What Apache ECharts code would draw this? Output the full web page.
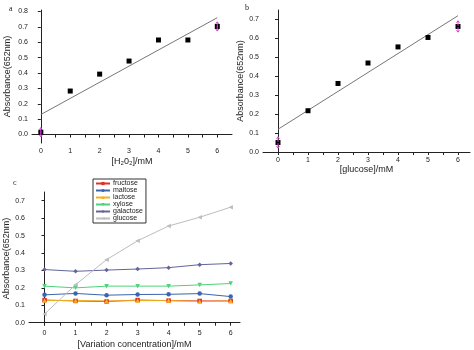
<!DOCTYPE html>
<html><head><meta charset="utf-8">
<script src="https://cdn.jsdelivr.net/npm/echarts@6/dist/echarts.min.js"></script>
<style>html,body{margin:0;padding:0;background:#fff}#c{width:474px;height:350px}</style>
</head><body><div id="c"></div>
<script>
const xCats = [0, 1, 2, 3, 4, 5, 6];
const xTicks = [0, 1, 2, 3, 4, 5, 6];
const yTicksA = [0, 0.1, 0.2, 0.3, 0.4, 0.5, 0.6, 0.7, 0.8];
const yTicksC = [0, 0.1, 0.2, 0.3, 0.4, 0.5, 0.6, 0.7];
// panel a
const aVals = [0.015, 0.283, 0.393, 0.478, 0.615, 0.615, 0.703];
const aErr = [[0, 0.015, 0.03], [6, 0.703, 0.03]];
const aFit = [[0, 0.13], [6, 0.76]];
// panel b
const bVals = [0.05, 0.218, 0.362, 0.47, 0.555, 0.605, 0.663];
const bErr = [[0, 0.05, 0.03], [6, 0.663, 0.03]];
const bFit = [[0, 0.12], [6, 0.72]];
// panel c
const seriesNames = ['fructose', 'maltose', 'lactose', 'xylose', 'galactose', 'glucose'];
const fructose = [0.13, 0.125, 0.122, 0.13, 0.127, 0.125, 0.125];
const maltose = [0.16, 0.168, 0.158, 0.162, 0.163, 0.167, 0.15];
const lactose = [0.128, 0.128, 0.125, 0.127, 0.127, 0.122, 0.125];
const xylose = [0.21, 0.2, 0.21, 0.21, 0.21, 0.217, 0.225];
const galactose = [0.305, 0.295, 0.302, 0.308, 0.316, 0.333, 0.34];
const glucose = [0.05, 0.218, 0.362, 0.47, 0.555, 0.605, 0.663];

const cData = [fructose, maltose, lactose, xylose, galactose, glucose];
const cColors = ['#e0302a', '#3a66b0', '#f2b21e', '#4fd27a', '#64649a', '#bdbdbd'];
const cSymbols = ['rect', 'circle', 'triangle', 'path://M0,0L10,0L5,9Z', 'diamond', 'path://M0,5L9,0L9,10Z'];

const txt = '#222';
const ff = 'Liberation Sans, Arial, sans-serif';
const xTickAll = xTicks.concat(xTicks.slice(0, -1).map(v => v + 0.5));
function xAxis(gi, min, max, name, nameGap) {
  return {
    type: 'value', gridIndex: gi, min: min, max: max,
    name: name, nameLocation: 'middle', nameGap: nameGap,
    nameTextStyle: {fontSize: 9, color: txt, fontFamily: ff},
    axisLine: {lineStyle: {color: '#222', width: 1}},
    axisTick: {show: true, customValues: xTickAll, length: 3, lineStyle: {color: '#222'}},
    axisLabel: {customValues: xTicks, fontSize: 7, color: txt, fontFamily: ff, margin: 5},
    splitLine: {show: false}
  };
}
function yAxis(gi, min, max, ticks, nameGap) {
  return {
    type: 'value', gridIndex: gi, min: min, max: max,
    name: 'Absorbance(652nm)', nameLocation: 'middle', nameGap: nameGap,
    nameTextStyle: {fontSize: 9, color: txt, fontFamily: ff},
    axisLine: {show: true, lineStyle: {color: '#222', width: 1}},
    axisTick: {show: true, customValues: ticks, length: 3, lineStyle: {color: '#222'}},
    axisLabel: {customValues: ticks, fontSize: 7, color: txt, fontFamily: ff, margin: 4,
      formatter: v => v.toFixed(1)},
    splitLine: {show: false}
  };
}

function errSeries(xi, yi, data) {
  return {
    type: 'custom', xAxisIndex: xi, yAxisIndex: yi, data: data, z: 7,
    renderItem: function (params, api) {
      const x = api.value(0), y = api.value(1), e = api.value(2);
      const p1 = api.coord([x, y + e]), p2 = api.coord([x, y - e]);
      const st = {stroke: '#e040e0', lineWidth: 1};
      return {type: 'group', children: [
        {type: 'line', shape: {x1: p1[0], y1: p1[1], x2: p1[0], y2: p1[1] + 5}, style: st},
        {type: 'line', shape: {x1: p2[0], y1: p2[1], x2: p2[0], y2: p2[1] - 5}, style: st},
        {type: 'line', shape: {x1: p1[0] - 1.5, y1: p1[1] + 2, x2: p1[0], y2: p1[1]}, style: st},
        {type: 'line', shape: {x1: p1[0] + 1.5, y1: p1[1] + 2, x2: p1[0], y2: p1[1]}, style: st},
        {type: 'line', shape: {x1: p2[0] - 1.5, y1: p2[1] - 2, x2: p2[0], y2: p2[1]}, style: st},
        {type: 'line', shape: {x1: p2[0] + 1.5, y1: p2[1] - 2, x2: p2[0], y2: p2[1]}, style: st}
      ]};
    }
  };
}

const series = [
  {type: 'line', xAxisIndex: 0, yAxisIndex: 0, data: aFit, symbol: 'none', lineStyle: {color: '#777', width: 1}},
  errSeries(0, 0, aErr),
  {type: 'scatter', xAxisIndex: 0, yAxisIndex: 0, data: xCats.map((x, i) => [x, aVals[i]]), symbol: 'rect', symbolSize: 5, itemStyle: {color: '#000', opacity: 1}, z: 6},
  {type: 'line', xAxisIndex: 1, yAxisIndex: 1, data: bFit, symbol: 'none', lineStyle: {color: '#777', width: 1}},
  errSeries(1, 1, bErr),
  {type: 'scatter', xAxisIndex: 1, yAxisIndex: 1, data: xCats.map((x, i) => [x, bVals[i]]), symbol: 'rect', symbolSize: 5, itemStyle: {color: '#000', opacity: 1}, z: 6}
];
cData.forEach((d, k) => {
  series.push({
    type: 'line', name: seriesNames[k], xAxisIndex: 2, yAxisIndex: 2,
    data: xCats.map((x, i) => [x, d[i]]),
    symbol: cSymbols[k], symbolSize: 4.5, showSymbol: true,
    lineStyle: {color: cColors[k], width: 1}, itemStyle: {color: cColors[k]}
  });
});

const chart = echarts.init(document.getElementById('c'), null, {renderer: 'canvas'});
chart.setOption({
  animation: false,
  backgroundColor: '#fff',
  title: [
    {text: 'a', left: 4, top: 0, textStyle: {fontSize: 8, fontWeight: 'normal', color: txt, fontFamily: 'Liberation Serif'}},
    {text: 'b', left: 240, top: -1, textStyle: {fontSize: 8, fontWeight: 'normal', color: txt, fontFamily: 'Liberation Serif'}},
    {text: 'c', left: 8, top: 174, textStyle: {fontSize: 8, fontWeight: 'normal', color: txt, fontFamily: 'Liberation Serif'}}
  ],
  grid: [
    {left: 32, top: 10, width: 200, height: 133},
    {left: 263, top: 10, width: 207, height: 142},
    {left: 29, top: 192, width: 211, height: 137}
  ],
  xAxis: [
    xAxis(0, -0.3, 6.5, '[H\u20820\u2082]/mM', 14),
    xAxis(1, -0.5, 6.4, '[glucose]/mM', 12),
    xAxis(2, -0.5, 6.3, '[Variation concentration]/mM', 15)
  ],
  yAxis: [
    yAxis(0, -0.055, 0.81, yTicksA, 20),
    yAxis(1, 0, 0.75, yTicksC, 17),
    yAxis(2, -0.013, 0.75, yTicksC, 15)
  ],
  legend: {
    data: seriesNames, orient: 'vertical', left: 93, top: 179,
    itemWidth: 14, itemHeight: 4, itemGap: 0, padding: [1, 3, 1, 2],
    borderColor: '#333', borderWidth: 1, backgroundColor: '#fff',
    textStyle: {fontSize: 7, color: txt, fontFamily: ff, lineHeight: 7, padding: [0, 0, 0, -2]}
  },
  series: series
});
</script></body></html>
